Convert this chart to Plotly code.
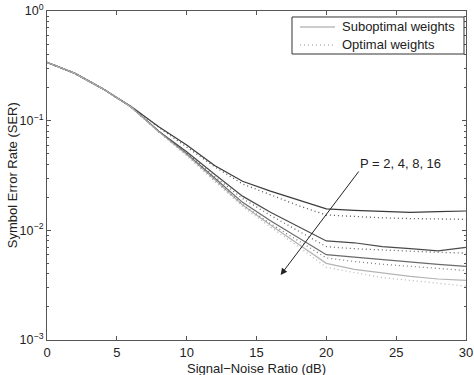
import numpy as np
import plotly.graph_objects as go

snr = [0, 2, 4, 6, 8, 10, 12, 14, 16, 18, 20, 22, 24, 26, 28, 30]

sub_p2 = [0.34, 0.27, 0.195, 0.135, 0.088, 0.060, 0.039, 0.028, 0.0228, 0.0189, 0.0157, 0.0152, 0.0148, 0.0146, 0.0148, 0.0150]
sub_p4 = [0.34, 0.27, 0.195, 0.134, 0.080, 0.052, 0.0325, 0.0205, 0.0146, 0.0108, 0.0080, 0.0077, 0.0071, 0.0068, 0.0065, 0.0070]
sub_p8 = [0.34, 0.27, 0.195, 0.134, 0.080, 0.050, 0.030, 0.018, 0.0122, 0.0086, 0.0060, 0.0057, 0.0054, 0.0051, 0.0049, 0.0047]
sub_p16 = [0.34, 0.27, 0.195, 0.134, 0.079, 0.049, 0.029, 0.017, 0.0112, 0.0075, 0.0050, 0.0044, 0.0041, 0.0038, 0.0036, 0.0035]

opt_p2 = [0.34, 0.27, 0.195, 0.134, 0.087, 0.058, 0.038, 0.0265, 0.021, 0.0168, 0.0138, 0.0133, 0.0130, 0.0128, 0.0127, 0.0126]
opt_p4 = [0.34, 0.27, 0.195, 0.134, 0.079, 0.051, 0.031, 0.0195, 0.0137, 0.0098, 0.0071, 0.0068, 0.0066, 0.0064, 0.0063, 0.0062]
opt_p8 = [0.34, 0.27, 0.195, 0.134, 0.079, 0.049, 0.029, 0.0172, 0.0115, 0.0080, 0.0056, 0.0052, 0.0049, 0.0047, 0.0045, 0.0043]
opt_p16 = [0.34, 0.27, 0.195, 0.134, 0.079, 0.048, 0.028, 0.0165, 0.0107, 0.0071, 0.0046, 0.0041, 0.0037, 0.0035, 0.0033, 0.0031]

x_ticks = [0, 5, 10, 15, 20, 25, 30]
y_tickvals = [1e-3, 1e-2, 1e-1, 1e0]
y_ticktext = ["10<sup>−3</sup>", "10<sup>−2</sup>", "10<sup>−1</sup>", "10<sup>0</sup>"]
legend_labels = ["Suboptimal weights", "Optimal weights"]
annot_text = "P = 2, 4, 8, 16"
x_title = "Signal−Noise Ratio (dB)"
y_title = "Symbol Error Rate (SER)"

FONT = "Liberation Sans, Arial, sans-serif"
TXT = "#222222"

sub_series = [sub_p2, sub_p4, sub_p8, sub_p16]
opt_series = [opt_p2, opt_p4, opt_p8, opt_p16]
sub_colors = ["#3a3a3a", "#4a4a4a", "#6a6a6a", "#b4b4b4"]
opt_colors = ["#555555", "#666666", "#808080", "#b8b8b8"]
DOT = "1px,3px"

fig = go.Figure()
for ys, c in zip(sub_series, sub_colors):
    fig.add_trace(go.Scatter(x=snr, y=ys, mode="lines", line=dict(color=c, width=1.2),
                             showlegend=False, hoverinfo="skip"))
for ys, c in zip(opt_series, opt_colors):
    fig.add_trace(go.Scatter(x=snr, y=ys, mode="lines", line=dict(color=c, width=1.3, dash=DOT),
                             showlegend=False, hoverinfo="skip"))

minor_vals = [m * 10.0 ** e for e in (-3, -2, -1) for m in range(2, 10)]

axis_common = dict(showline=True, linecolor="#555555", linewidth=1, mirror="ticks",
                   ticks="inside", ticklen=4, tickcolor="#555555", showgrid=False, zeroline=False,
                   automargin=False)

fig.update_xaxes(range=[0, 30], tickvals=x_ticks, tickfont=dict(family=FONT, size=13, color=TXT),
                 **axis_common)
fig.update_yaxes(type="log", range=[-3, 0], tickvals=y_tickvals, ticktext=y_ticktext,
                 tickfont=dict(family=FONT, size=12.5, color=TXT),
                 minor=dict(ticks="inside", ticklen=2, tickcolor="#555555", tickmode="array", tickvals=minor_vals),
                 **axis_common)

# arrow and its label
fig.add_annotation(x=16.73, y=np.log10(0.00392), ax=22.4, ay=np.log10(0.0355),
                   xref="x", yref="y", axref="x", ayref="y", text="", showarrow=True,
                   arrowhead=2, arrowsize=1.3, arrowwidth=1, arrowcolor="#222222")
fig.add_annotation(x=25.3, y=np.log10(0.0411), xref="x", yref="y", text=annot_text, showarrow=False,
                   font=dict(family=FONT, size=13, color=TXT))

# axis titles
fig.add_annotation(x=0.5, y=-0.086, xref="paper", yref="paper", text=x_title, showarrow=False,
                   xanchor="center", yanchor="middle", font=dict(family=FONT, size=13, color=TXT))
fig.add_annotation(x=-0.082, y=0.5, xref="paper", yref="paper", text=y_title, showarrow=False,
                   textangle=-90, xanchor="center", yanchor="middle", font=dict(family=FONT, size=13, color=TXT))

# legend box drawn by hand (MATLAB-style compact legend)
fig.add_shape(type="rect", xref="paper", yref="paper", x0=0.5847, x1=0.9952, y0=0.8693, y1=0.9818,
              line=dict(color="#333333", width=1), fillcolor="white", layer="above")
leg_y = [0.9514, 0.8967]
leg_dash = ["solid", DOT]
for label, ly, dsh in zip(legend_labels, leg_y, leg_dash):
    fig.add_shape(type="line", xref="paper", yref="paper", x0=0.6038, x1=0.6874, y0=ly, y1=ly,
                  line=dict(color="#999999", width=1.2, dash=dsh), layer="above")
    fig.add_annotation(x=0.6993, y=ly, xref="paper", yref="paper", text=label, showarrow=False,
                       xanchor="left", yanchor="middle", font=dict(family=FONT, size=13, color=TXT))

fig.update_layout(
    width=474, height=375,
    margin=dict(l=47, r=8, t=11, b=35),
    plot_bgcolor="white", paper_bgcolor="white",
    showlegend=False,
)

fig.write_html("out.html", config={"displayModeBar": False},
               post_script="document.body.style.margin='0';")
